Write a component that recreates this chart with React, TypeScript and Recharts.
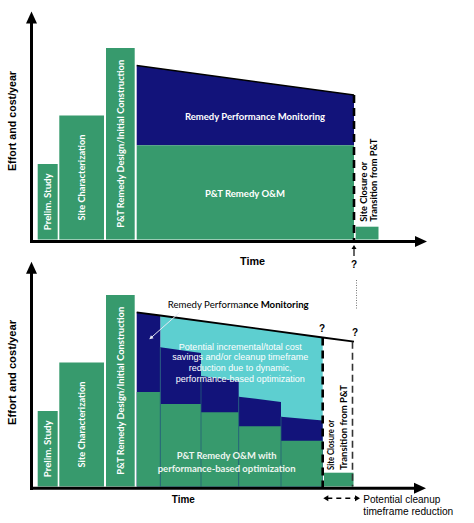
import React from 'react';
import { ComposedChart, Area, Line, XAxis, YAxis, ReferenceLine } from 'recharts';

const W = 474;
const H = 523;

const GREEN = '#379a6d';
const NAVY = '#12137a';
const CYAN = '#5dcfd0';
const SANS = 'Liberation Sans, Arial, sans-serif';
const HUMAN = 'Lato, Open Sans, sans-serif';

// time runs along x, effort/cost along y (arbitrary units, both panels share the time scale)
const X_DOMAIN = [-3.15, 44.25];
const TOP_DOMAIN = [-28.35, 23.95];
const BOT_DOMAIN = [-3.65, 48.65];

// project phases, identical in both panels
const phaseLabels = ['Prelim. Study', 'Site Characterization', 'P&T Remedy Design/Initial Construction'];
const phaseStart = [0.62, 2.78, 7.45];
const phaseEnd = [2.62, 7.25, 10.32];
const phaseEffort = [7.55, 12.4, 19.15];
const phaseLabelLen = [57, 86, 168];

// top panel: conventional P&T
const omStart = 10.52;
const omEnd = 32.25;
const omEffort = 9.42;
const monitorT = [10.52, 32.25];
const monitorTop = [17.4, 14.45];
const closureStart = 32.42;
const closureEnd = 34.7;
const closureEffort = 1.28;

// bottom panel: performance-based optimization
const optStart = [10.52, 12.88, 16.95, 20.72, 24.95];
const optEnd = [12.88, 16.95, 20.72, 24.95, 29.12];
const optOM = [9.45, 8.25, 7.42, 6.02, 4.58];
const optMonStart = [17.42, 13.92, 11.05, 8.98, 6.98];
const optMonEnd = [17.1, 13.35, 10.55, 8.45, 6.6];
const envelopeT = [10.52, 12.88, 29.12, 32.25];
const envelope = [17.42, 17.1, 14.9, 14.48];
const optClosureStart = 29.25;
const optClosureEnd = 32.2;
const optClosureEffort = 1.38;

const px = (t: number) => ((t - X_DOMAIN[0]) / (X_DOMAIN[1] - X_DOMAIN[0])) * W;
const py = (v: number, d: number[]) => H - ((v - d[0]) / (d[1] - d[0])) * H;

const rect = (a: number, b: number, lo: number, hi: number) => [
  { t: a, r: [lo, hi] },
  { t: b, r: [lo, hi] },
];

const arrow = (head: number, half: number, both = false) => (props: any) => {
  const { x1, y1, x2, y2, stroke, strokeWidth, strokeDasharray } = props;
  const a = Math.atan2(y2 - y1, x2 - x1);
  const c = Math.cos(a);
  const s = Math.sin(a);
  const tri = (x: number, y: number, dc: number, ds: number) => {
    const bx = x - head * dc;
    const by = y - head * ds;
    return `${x},${y} ${bx + half * ds},${by - half * dc} ${bx - half * ds},${by + half * dc}`;
  };
  return (
    <g>
      <line
        x1={both ? x1 + head * 0.8 * c : x1}
        y1={both ? y1 + head * 0.8 * s : y1}
        x2={x2 - head * 0.8 * c}
        y2={y2 - head * 0.8 * s}
        stroke={stroke}
        strokeWidth={strokeWidth}
        strokeDasharray={strokeDasharray}
      />
      <polygon points={tri(x2, y2, c, s)} fill={stroke} />
      {both && <polygon points={tri(x1, y1, -c, -s)} fill={stroke} />}
    </g>
  );
};

const T = ({ x, y, w, size = 10, weight = 'normal', fill = '#000', rotate = 0, anchor = 'middle', family = SANS, children }: any) => (
  <text
    x={x}
    y={y}
    fontSize={size}
    fontWeight={weight}
    fill={fill}
    fontFamily={family}
    textAnchor={anchor}
    dominantBaseline="central"
    textLength={w}
    lengthAdjust="spacingAndGlyphs"
    transform={rotate ? `rotate(${rotate} ${x} ${y})` : undefined}
  >
    {children}
  </text>
);

const areaProps = {
  type: 'linear' as const,
  dataKey: 'r',
  stroke: 'none',
  fillOpacity: 1,
  dot: false,
  activeDot: false,
  isAnimationActive: false,
};

const panels = [
  { id: 'top', d: TOP_DOMAIN },
  { id: 'bot', d: BOT_DOMAIN },
];

// labels sit in an svg layered above the plot so the white ones stay on top of the fills
const Labels = () => (
  <svg width={W} height={H} style={{ position: 'absolute', left: 0, top: 0, pointerEvents: 'none' }}>
    {panels.map((p) =>
      phaseLabels.map((l, i) => (
        <T key={`${p.id}lb${i}`} x={px((phaseStart[i] + phaseEnd[i]) / 2)} y={py(phaseEffort[i] / 2, p.d)} w={phaseLabelLen[i]} size={9.5} weight="bold" fill="#fff" rotate={-90} family={HUMAN}>
          {l}
        </T>
      ))
    )}
    <T x={11.7} y={121} w={100} size={11} weight="bold" rotate={-90}>Effort and cost/year</T>
    <T x={11.5} y={372.5} w={105} size={11} weight="bold" rotate={-90}>Effort and cost/year</T>

    <T x={255} y={116} w={140} size={10} weight="bold" fill="#fff" family={HUMAN}>Remedy Performance Monitoring</T>
    <T x={245} y={192.7} w={80} size={10} weight="bold" fill="#fff" family={HUMAN}>P&amp;T Remedy O&amp;M</T>
    <T x={252.5} y={261} w={25} size={10.5} weight="bold">Time</T>
    <T x={px(omEnd)} y={264.5} size={10} weight="bold">?</T>
    <T x={363.3} y={221.7} w={60} size={9.5} weight="bold" rotate={-90} anchor="start" family={HUMAN}>Site Closure or</T>
    <T x={373.3} y={221.7} w={83} size={9.5} weight="bold" rotate={-90} anchor="start" family={HUMAN}>Transition from P&amp;T</T>

    <text x={167.7} y={304} fontSize={9.5} fontFamily={HUMAN} dominantBaseline="central" textLength={141} lengthAdjust="spacingAndGlyphs">
      <tspan>Remedy Performa</tspan>
      <tspan fontWeight="bold">nce Monitoring</tspan>
    </text>

    <T x={240.3} y={346} w={123} size={9.5} fill="#fff">Potential incremental/total cost</T>
    <T x={240.3} y={356.7} w={136} size={9.5} fill="#fff">savings and/or cleanup timeframe</T>
    <T x={240.3} y={367.7} w={103} size={9.5} fill="#fff">reduction due to dynamic,</T>
    <T x={240.3} y={378.3} w={129} size={9.5} fill="#fff">performance-based optimization</T>

    <T x={226.7} y={455} w={100} size={10} weight="bold" fill="#eef6f0" family={HUMAN}>P&amp;T Remedy O&amp;M with</T>
    <T x={226.7} y={468.3} w={138} size={10} weight="bold" fill="#eef6f0" family={HUMAN}>performance-based optimization</T>

    <T x={183.3} y={499} w={23} size={10.5} weight="bold">Time</T>
    <T x={322} y={328} size={10} weight="bold">?</T>
    <T x={355} y={332.7} size={10} weight="bold">?</T>
    <T x={330} y={470} w={50} size={9} weight="bold" rotate={-90} anchor="start" family={HUMAN}>Site Closure or</T>
    <T x={343} y={470} w={85} size={9} weight="bold" rotate={-90} anchor="start" family={HUMAN}>Transition from P&amp;T</T>
    <T x={363.3} y={499.3} w={77} size={10.5} anchor="start">Potential cleanup</T>
    <T x={363.3} y={511} w={90} size={10.5} anchor="start">timeframe reduction</T>
  </svg>
);

export default function App() {
  return (
    <div style={{ position: 'absolute', left: 0, top: 0, width: W, height: H, background: '#fff' }}>
      <ComposedChart width={W} height={H} margin={{ top: 0, right: 0, bottom: 0, left: 0 }}>
        <XAxis type="number" dataKey="t" domain={X_DOMAIN} allowDataOverflow hide />
        <YAxis yAxisId="top" type="number" domain={TOP_DOMAIN} allowDataOverflow hide />
        <YAxis yAxisId="bot" type="number" domain={BOT_DOMAIN} allowDataOverflow hide />

        {/* top panel fills */}
        <Area {...areaProps} yAxisId="top" data={[{ t: monitorT[0], r: [omEffort, monitorTop[0]] }, { t: monitorT[1], r: [omEffort, monitorTop[1]] }]} fill={NAVY} />
        <Area {...areaProps} yAxisId="top" data={rect(omStart, omEnd, 0, omEffort)} fill={GREEN} />
        <Area {...areaProps} yAxisId="top" data={rect(closureStart, closureEnd, 0, closureEffort)} fill={GREEN} />

        {/* bottom panel fills: savings wedge, then monitoring steps, then O&M steps */}
        <Area {...areaProps} yAxisId="bot" data={[{ t: envelopeT[1], r: [0, envelope[1]] }, { t: envelopeT[2], r: [0, envelope[2]] }]} fill={CYAN} />
        {optStart.map((s, i) => (
          <Area key={`mon${i}`} {...areaProps} yAxisId="bot" data={[{ t: s, r: [0, optMonStart[i]] }, { t: optEnd[i], r: [0, optMonEnd[i]] }]} fill={NAVY} />
        ))}
        {optStart.map((s, i) => (
          <Area key={`om${i}`} {...areaProps} yAxisId="bot" data={rect(s, optEnd[i], 0, optOM[i])} fill={GREEN} />
        ))}
        <Area {...areaProps} yAxisId="bot" data={rect(optClosureStart, optClosureEnd, 0, optClosureEffort)} fill={GREEN} />

        {/* phase bars in both panels */}
        {panels.map((p) =>
          phaseStart.map((s, i) => (
            <Area key={`${p.id}ph${i}`} {...areaProps} yAxisId={p.id} data={rect(s, phaseEnd[i], 0, phaseEffort[i])} fill={GREEN} />
          ))
        )}

        {/* step separators */}
        {optStart.slice(1).map((s, i) => (
          <ReferenceLine key={`sep${i}`} yAxisId="bot" segment={[{ x: s, y: 0 }, { x: s, y: Math.max(optMonStart[i + 1], optOM[i]) }]} stroke="#25607a" strokeWidth={0.8} />
        ))}

        <Line yAxisId="top" data={monitorT.map((t, i) => ({ t, v: monitorTop[i] }))} dataKey="v" stroke="#000" strokeWidth={1.4} dot={false} activeDot={false} isAnimationActive={false} />
        <Line yAxisId="bot" data={envelopeT.map((t, i) => ({ t, v: envelope[i] }))} dataKey="v" stroke="#000" strokeWidth={1.8} dot={false} activeDot={false} isAnimationActive={false} />

        {/* end-of-remedy markers */}
        <ReferenceLine yAxisId="top" segment={[{ x: omEnd, y: monitorTop[1] }, { x: omEnd, y: -0.2 }]} stroke="#000" strokeWidth={2.6} strokeDasharray="8 5" />
        <ReferenceLine yAxisId="bot" segment={[{ x: optEnd[4], y: envelope[2] }, { x: optEnd[4], y: -0.2 }]} stroke="#000" strokeWidth={2.6} strokeDasharray="8 5" />
        <ReferenceLine yAxisId="bot" segment={[{ x: 32.1, y: envelope[3] }, { x: 32.1, y: 0 }]} stroke="#333" strokeWidth={1.6} strokeDasharray="7 4" />
        <ReferenceLine yAxisId="bot" segment={[{ x: 32.5, y: 20.65 }, { x: 32.5, y: 17.65 }]} stroke="#777" strokeWidth={1} strokeDasharray="1 1.5" />

        {/* axes */}
        <ReferenceLine yAxisId="top" segment={[{ x: 0, y: -0.35 }, { x: 0, y: 22.8 }]} stroke="#000" strokeWidth={3} shape={arrow(12, 5.5)} />
        <ReferenceLine yAxisId="top" segment={[{ x: -0.15, y: -0.2 }, { x: 39.55, y: -0.2 }]} stroke="#000" strokeWidth={3} shape={arrow(12, 5.5)} />
        <ReferenceLine yAxisId="bot" segment={[{ x: 0, y: -0.35 }, { x: 0, y: 22.48 }]} stroke="#000" strokeWidth={3} shape={arrow(12, 5.5)} />
        <ReferenceLine yAxisId="bot" segment={[{ x: -0.15, y: -0.18 }, { x: 39.45, y: -0.18 }]} stroke="#000" strokeWidth={3} shape={arrow(12, 5.5)} />
        <ReferenceLine yAxisId="top" segment={[{ x: omEnd, y: -1.65 }, { x: omEnd, y: -0.55 }]} stroke="#000" strokeWidth={1.2} shape={arrow(4, 2.5)} />
        <ReferenceLine yAxisId="bot" segment={[{ x: 29.18, y: -1.18 }, { x: 32.85, y: -1.18 }]} stroke="#000" strokeWidth={1.5} strokeDasharray="5 4" shape={arrow(5, 3, true)} />
        <ReferenceLine yAxisId="bot" segment={[{ x: 14.78, y: 17.38 }, { x: 11.78, y: 14.72 }]} stroke="#e4e8f4" strokeWidth={1} shape={arrow(4, 2)} />
      </ComposedChart>
      <Labels />
    </div>
  );
}
